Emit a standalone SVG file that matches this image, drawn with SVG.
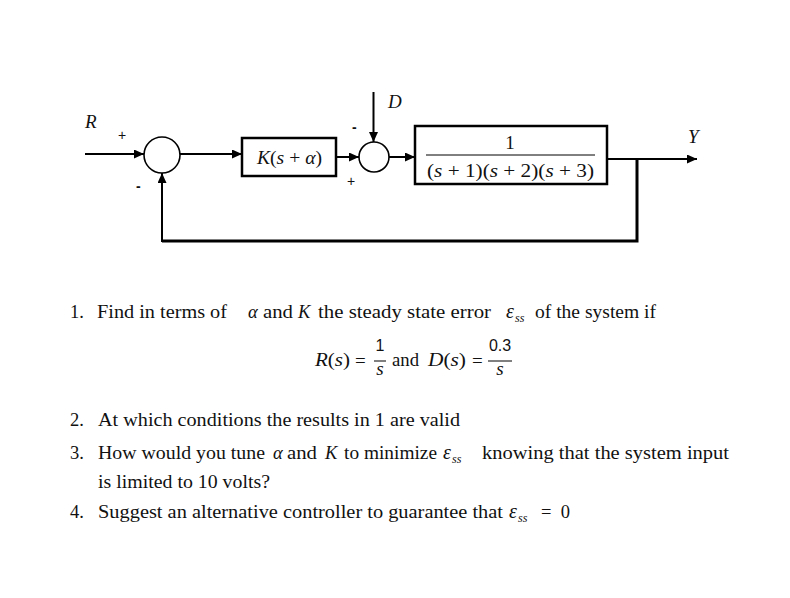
<svg xmlns="http://www.w3.org/2000/svg" width="790" height="598" viewBox="0 0 790 598">
<defs>
<marker id="ah" markerUnits="userSpaceOnUse" markerWidth="11" markerHeight="10" refX="10" refY="4.5" orient="auto">
<path d="M0,0 L10,4.5 L0,9 z" fill="#000"/>
</marker>
<style>
.ln{stroke:#000;stroke-width:2;fill:none}
.thk{stroke:#000;stroke-width:3;fill:none}
.box{stroke:#000;stroke-width:2.5;fill:#fff}
.sum{stroke:#000;stroke-width:1.6;fill:#fff}
.t{font-family:"Liberation Serif",serif;font-size:18.5px;fill:#111}
.i{font-style:italic}
.m{font-family:"Liberation Serif",serif;font-size:19px;fill:#111}
.sn{font-family:"Liberation Sans",Arial,sans-serif;font-size:16px;fill:#111}
.eps{font-family:"Liberation Serif",serif;font-style:italic;font-size:20px;fill:#111}
.sub{font-family:"Liberation Serif",serif;font-style:italic;font-size:12px;fill:#111}
.sg{font-family:"Liberation Sans",sans-serif;font-size:14px;fill:#111}
</style>
</defs>
<rect width="790" height="598" fill="#fff"/>

<g id="connectors">
<line class="ln" x1="85" y1="154" x2="144" y2="154" marker-end="url(#ah)"/>
<line class="ln" x1="180" y1="154" x2="242" y2="154" marker-end="url(#ah)"/>
<line class="ln" x1="336" y1="157" x2="359" y2="157" marker-end="url(#ah)"/>
<line class="ln" x1="373.5" y1="92" x2="373.5" y2="142" marker-end="url(#ah)"/>
<line class="ln" x1="389" y1="157" x2="415" y2="157" marker-end="url(#ah)"/>
<line class="ln" x1="607" y1="159" x2="697" y2="159" marker-end="url(#ah)"/>
<polyline class="thk" points="637,159 637,241 162,241"/>
<line class="ln" x1="162" y1="242" x2="162" y2="173" marker-end="url(#ah)"/>
</g>

<g id="sum1">
<circle class="sum" cx="162" cy="155" r="18"/>
<text class="sg" x="118" y="140">+</text>
<text class="sg" x="136" y="191" font-weight="bold">-</text>
</g>

<g id="controller">
<rect class="box" x="242" y="138" width="94" height="38"/>
<text class="m" x="257" y="164" textLength="65" lengthAdjust="spacingAndGlyphs"><tspan class="i">K</tspan>(<tspan class="i">s</tspan> + <tspan class="i">α</tspan>)</text>
</g>

<g id="sum2">
<circle class="sum" cx="374" cy="157" r="15"/>
<text class="sg" x="352" y="132" font-weight="bold">-</text>
<text class="sg" x="347" y="186">+</text>
</g>

<g id="plant">
<rect class="box" x="415" y="126" width="192" height="58"/>
<text class="m" x="510" y="149" text-anchor="middle">1</text>
<line x1="426" y1="155" x2="595" y2="155" stroke="#000" stroke-width="1"/>
<text class="m" x="427" y="177" textLength="167" lengthAdjust="spacingAndGlyphs">(<tspan class="i">s</tspan> + 1)(<tspan class="i">s</tspan> + 2)(<tspan class="i">s</tspan> + 3)</text>
</g>

<g id="labels">
<text class="m i" x="85" y="128">R</text>
<text class="m i" x="388" y="108">D</text>
<text class="m i" x="688" y="143">Y</text>
</g>

<g id="questions">
<text class="t" x="70" y="318">1.</text>
<text class="t" x="97" y="318" textLength="130" lengthAdjust="spacingAndGlyphs">Find in terms of</text>
<text class="t i" x="248" y="318">α</text>
<text class="t" x="263" y="318" textLength="30" lengthAdjust="spacingAndGlyphs">and</text>
<text class="t i" x="298" y="318">K</text>
<text class="t" x="318" y="318" textLength="173" lengthAdjust="spacingAndGlyphs">the steady state error</text>
<text class="eps" x="506" y="318">ε</text><text class="sub" x="515" y="322">ss</text>
<text class="t" x="535" y="318" textLength="121" lengthAdjust="spacingAndGlyphs">of the system if</text>

<text class="m" x="315" y="366" textLength="35" lengthAdjust="spacingAndGlyphs"><tspan class="i">R</tspan>(<tspan class="i">s</tspan>)</text>
<text class="m" x="355" y="367">=</text>
<text class="sn" x="380" y="351" text-anchor="middle">1</text>
<line x1="374" y1="361" x2="386" y2="361" stroke="#000" stroke-width="1"/>
<text class="m i" x="380" y="375" text-anchor="middle">s</text>
<text class="t" x="392" y="366" textLength="27" lengthAdjust="spacingAndGlyphs">and</text>
<text class="m" x="428" y="366" textLength="38" lengthAdjust="spacingAndGlyphs"><tspan class="i">D</tspan>(<tspan class="i">s</tspan>)</text>
<text class="m" x="472" y="367">=</text>
<text class="sn" x="500" y="351" text-anchor="middle">0.3</text>
<line x1="488" y1="361" x2="512" y2="361" stroke="#000" stroke-width="1"/>
<text class="m i" x="500" y="375" text-anchor="middle">s</text>

<text class="t" x="70" y="426">2.</text>
<text class="t" x="98" y="426" textLength="362" lengthAdjust="spacingAndGlyphs">At which conditions the results in 1 are valid</text>

<text class="t" x="70" y="459">3.</text>
<text class="t" x="98" y="459" textLength="167" lengthAdjust="spacingAndGlyphs">How would you tune</text>
<text class="t i" x="273" y="459">α</text>
<text class="t" x="287" y="459" textLength="30" lengthAdjust="spacingAndGlyphs">and</text>
<text class="t i" x="325" y="459">K</text>
<text class="t" x="344" y="459" textLength="93" lengthAdjust="spacingAndGlyphs">to minimize</text>
<text class="eps" x="443" y="459">ε</text><text class="sub" x="452" y="463">ss</text>
<text class="t" x="482" y="459" textLength="247" lengthAdjust="spacingAndGlyphs">knowing that the system input</text>
<text class="t" x="98" y="488" textLength="172" lengthAdjust="spacingAndGlyphs">is limited to 10 volts?</text>

<text class="t" x="70" y="518">4.</text>
<text class="t" x="98" y="518" textLength="405" lengthAdjust="spacingAndGlyphs">Suggest an alternative controller to guarantee that</text>
<text class="eps" x="509" y="518">ε</text><text class="sub" x="518" y="522">ss</text>
<text class="t" x="541" y="518" textLength="29" lengthAdjust="spacing">= 0</text>
</g>
</svg>
